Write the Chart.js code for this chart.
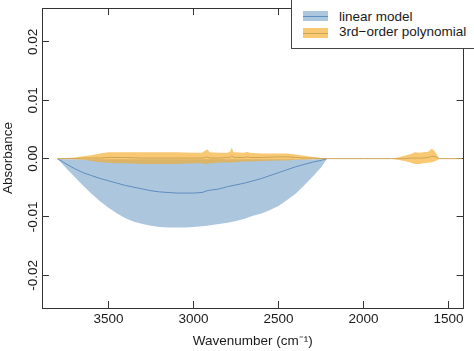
<!DOCTYPE html>
<html>
<head>
<meta charset="utf-8">
<script src="https://cdn.jsdelivr.net/npm/chart.js"></script>
<style>
  body { margin: 0; background: #fff; overflow: hidden; }
  #wrap { position: relative; width: 474px; height: 351px; overflow: hidden; }
  #legend {
    position: absolute; left: 291px; top: -2px; width: 200px; height: 49px;
    border: 1px solid #444; background: #fff;
    font: 13.5px "Liberation Sans", Arial, sans-serif; color: #1a1a1a;
  }
  .sw { position: absolute; left: 11px; width: 25px; height: 10px; }
  .sw i { position: absolute; left: 0; right: 0; top: 4.5px; height: 1px; }
  .lbl { position: absolute; left: 47px; line-height: 15px; white-space: nowrap; }
</style>
</head>
<body>
<div id="wrap">
  <canvas id="chart" width="474" height="351"></canvas>
  <div id="legend">
    <div class="sw" style="top:12px;background:rgb(172,199,221)"><i style="background:rgb(95,140,190)"></i></div>
    <div class="lbl" style="top:10px">linear model</div>
    <div class="sw" style="top:29px;background:rgb(248,200,115)"><i style="background:rgb(205,165,85)"></i></div>
    <div class="lbl" style="top:25px">3rd−order polynomial</div>
  </div>
</div>
<script>
// wavenumber grid + band for the linear model
const linearWn = [3800, 3750, 3700, 3650, 3600, 3550, 3500, 3450, 3400, 3350,
  3300, 3250, 3200, 3150, 3100, 3050, 3000, 2950, 2920, 2900,
  2850, 2800, 2750, 2700, 2650, 2600, 2550, 2500, 2450, 2400,
  2350, 2300, 2250, 2215]
const linearUpper = [0, -0.0001, -0.0001, -0.0001, -0.0001, -0.0001, -0.0001, -0.0001, -0.0001, -0.0001,
  -0.0001, -0.0001, -0.0001, -0.0001, -0.0001, -0.0001, -0.0001, -0.0001, -0.0001, -0.0001,
  -0.0001, -0.0001, -0.0001, -0.0001, -0.0001, -0.0001, -0.0001, -0.0001, -0.0001, -0.0001,
  -0.0001, -0.0001, -0.0001, 0]
const linearMean = [0, -0.0009, -0.0017, -0.0024, -0.0029, -0.0034, -0.0038, -0.0042, -0.0046, -0.0049,
  -0.0052, -0.0055, -0.0057, -0.0058, -0.0059, -0.0059, -0.0059, -0.0058, -0.0055, -0.0054,
  -0.0052, -0.0048, -0.0045, -0.0042, -0.0038, -0.0034, -0.0029, -0.0024, -0.0019, -0.0014,
  -0.0010, -0.0006, -0.0003, 0]
const linearLower = [0, -0.0016, -0.0031, -0.0046, -0.0060, -0.0073, -0.0084, -0.0094, -0.0102, -0.0108,
  -0.0112, -0.0115, -0.0117, -0.0118, -0.0118, -0.0118, -0.0117, -0.0116, -0.0115, -0.0114,
  -0.0112, -0.0110, -0.0107, -0.0103, -0.0098, -0.0094, -0.0088, -0.0081, -0.0071, -0.0060,
  -0.0046, -0.0031, -0.0015, 0]

// wavenumber grid + band for the 3rd-order polynomial
const polyWn = [3800, 3750, 3700, 3650, 3600, 3550, 3500, 3450, 3400, 3300,
  3200, 3100, 3000, 2950, 2930, 2920, 2905, 2850, 2800, 2785,
  2775, 2765, 2700, 2685, 2670, 2600, 2500, 2450, 2400, 2350,
  2300, 2250, 2215, 2000, 1835, 1800, 1760, 1720, 1700, 1670,
  1650, 1620, 1600, 1585, 1570, 1555, 1420]
const polyUpper = [0, 0.0001, 0.0002, 0.0004, 0.0006, 0.0009, 0.0011, 0.0011, 0.0011, 0.0011,
  0.0011, 0.0011, 0.0010, 0.0010, 0.0014, 0.0016, 0.0011, 0.0010, 0.0010, 0.0012,
  0.0019, 0.0011, 0.0010, 0.0012, 0.0010, 0.0009, 0.0009, 0.0009, 0.0007, 0.0005,
  0.0003, 0.0001, 0, 0, 0, 0.0002, 0.0005, 0.0008, 0.0011, 0.0010,
  0.0011, 0.0012, 0.0017, 0.0014, 0.0007, 0, 0]
const polyMean = [0, 0, 0, 0.0001, 0.0001, 0.0001, 0.0002, 0.0002, 0.0002, 0.0001,
  0.0001, 0.0001, 0.0001, 0.0001, 0.0002, 0.0003, 0.0001, 0.0001, 0.0002, 0.0002,
  0.0005, 0.0002, 0.0002, 0.0003, 0.0002, 0.0002, 0.0003, 0.0003, 0.0002, 0.0001,
  0.0001, 0, 0, 0, 0, 0, 0, 0.0001, 0.0001, 0.0001,
  0.0001, 0.0002, 0.0004, 0.0004, 0.0002, 0, 0]
const polyLower = [0, 0, -0.0001, -0.0002, -0.0004, -0.0006, -0.0007, -0.0008, -0.0008, -0.0009,
  -0.0009, -0.0009, -0.0008, -0.0008, -0.0009, -0.0009, -0.0008, -0.0007, -0.0006, -0.0007,
  -0.0007, -0.0006, -0.0005, -0.0005, -0.0005, -0.0004, -0.0003, -0.0003, -0.0002, -0.0002,
  -0.0001, -0.0001, 0, 0, 0, -0.0002, -0.0004, -0.0007, -0.0009, -0.0009,
  -0.0008, -0.0007, -0.0006, -0.0005, -0.0003, 0, 0]

const xTicks = [3500, 3000, 2500, 2000, 1500]
const yTicks = [-0.02, -0.01, 0, 0.01, 0.02]

const X_MIN = 1412
const X_MAX = 3891
const Y_MIN = -0.0256
const Y_MAX = 0.0258

const pts = (xs, ys) => xs.map((x, i) => ({ x, y: ys[i] }))

const BLUE_FILL = 'rgba(70,130,180,0.45)'
const BLUE_LINE = 'rgb(95,140,190)'
const ORANGE_FILL = 'rgba(245,170,40,0.65)'
const ORANGE_LINE = 'rgb(205,165,85)'
const AXIS = '#333'

Chart.defaults.font.family = '"Liberation Sans", Arial, sans-serif'
Chart.defaults.font.size = 13.5
Chart.defaults.color = '#1a1a1a'

const band = { pointRadius: 0, borderWidth: 0, tension: 0 }

const frame = (extra) => ({
  type: 'linear',
  grid: { drawOnChartArea: false, tickLength: -7, color: AXIS, tickColor: AXIS },
  border: { display: true, color: AXIS, width: 1 },
  ...extra
})

new Chart(document.getElementById('chart'), {
  type: 'line',
  data: {
    datasets: [
      { label: 'linear upper', data: pts(linearWn, linearUpper), ...band, fill: false, order: 6 },
      { label: 'linear model', data: pts(linearWn, linearLower), ...band, fill: '-1', backgroundColor: BLUE_FILL, order: 5 },
      { label: 'linear mean', data: pts(linearWn, linearMean), pointRadius: 0, borderWidth: 1, borderColor: BLUE_LINE, fill: false, order: 4 },
      { label: 'poly upper', data: pts(polyWn, polyUpper), ...band, fill: false, order: 3 },
      { label: '3rd-order polynomial', data: pts(polyWn, polyLower), ...band, fill: '-1', backgroundColor: ORANGE_FILL, order: 2 },
      { label: 'poly mean', data: pts(polyWn, polyMean), pointRadius: 0, borderWidth: 1, borderColor: ORANGE_LINE, fill: false, order: 1 }
    ]
  },
  options: {
    responsive: false,
    animation: false,
    layout: { padding: 0 },
    plugins: {
      legend: { display: false },
      tooltip: { enabled: false }
    },
    scales: {
      x: frame({
        position: 'bottom',
        min: X_MIN,
        max: X_MAX,
        reverse: true,
        afterBuildTicks: (s) => { s.ticks = xTicks.map(v => ({ value: v })) },
        ticks: { padding: 10, maxRotation: 0, autoSkip: false, callback: (v) => String(v) },
        title: { display: true, text: 'Wavenumber (cm⁻¹)', padding: { top: 0, bottom: 2 } },
        afterFit: (s) => { s.height = 43 }
      }),
      x2: frame({
        position: 'top',
        min: X_MIN,
        max: X_MAX,
        reverse: true,
        afterBuildTicks: (s) => { s.ticks = xTicks.map(v => ({ value: v })) },
        ticks: { display: false },
        afterFit: (s) => { s.height = 0 }
      }),
      y: frame({
        position: 'left',
        min: Y_MIN,
        max: Y_MAX,
        afterBuildTicks: (s) => { s.ticks = yTicks.map(v => ({ value: v })) },
        ticks: { padding: 0, minRotation: 90, maxRotation: 90, crossAlign: 'center', callback: (v) => v.toFixed(2) },
        title: { display: true, text: 'Absorbance', padding: 0 },
        afterFit: (s) => { s.width = 42 }
      }),
      y2: frame({
        position: 'right',
        min: Y_MIN,
        max: Y_MAX,
        afterBuildTicks: (s) => { s.ticks = yTicks.map(v => ({ value: v })) },
        ticks: { display: false },
        afterFit: (s) => { s.width = 1 }
      })
    }
  }
})
</script>
</body>
</html>
